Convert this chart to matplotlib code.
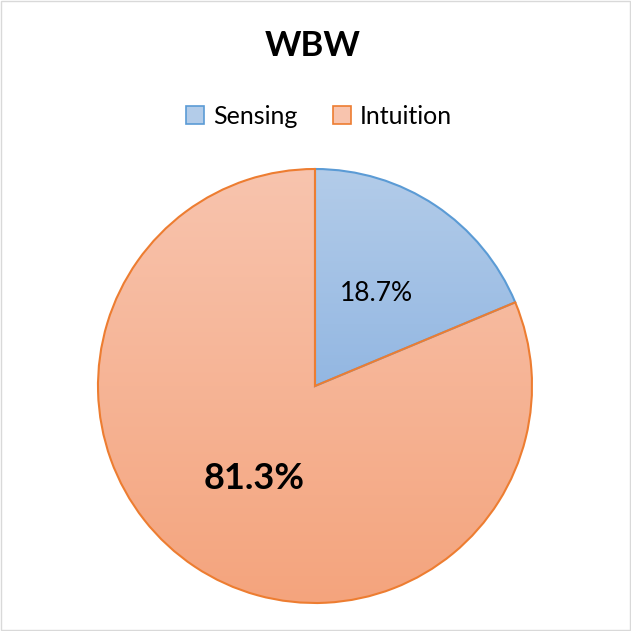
import numpy as np
import matplotlib.pyplot as plt
import matplotlib.patches as mpatches
from matplotlib.colors import LinearSegmentedColormap

plt.rcParams['font.family'] = ['Lato', 'DejaVu Sans']

title = 'WBW'
labels = ['Sensing', 'Intuition']
values = [18.7, 81.3]
edge_colors = ['#5b9bd5', '#ed7d31']
grad_top = ['#b3cce9', '#f8c4ae']
grad_bottom = ['#93b7e2', '#f4a47d']

fig = plt.figure(figsize=(6.31, 6.31), dpi=100)
R = 217 / 631
ax = fig.add_axes([(315 / 631) - R, (245 / 631) - R, 2 * R, 2 * R])
ax.axis('off')

wedges, texts, autotexts = ax.pie(values, startangle=90, counterclock=False,
                                  radius=1, autopct='%.1f%%', pctdistance=0.51,
                                  wedgeprops=dict(linewidth=1.5), frame=False)

for i, w in enumerate(wedges):
    w.set_facecolor('none')
    w.set_edgecolor(edge_colors[i])
    w.set_clip_on(False)
    w.set_zorder(3 + i)
    # vertical gradient inside each wedge's own bounding box
    path = w.get_path()
    verts = w.get_patch_transform().transform(path.vertices)
    y0, y1 = verts[:, 1].min(), verts[:, 1].max()
    cmap = LinearSegmentedColormap.from_list('g%d' % i, [grad_bottom[i], grad_top[i]])
    grad = np.linspace(0, 1, 256).reshape(-1, 1)
    im = ax.imshow(grad, cmap=cmap, origin='lower', aspect='auto',
                   extent=(-1, 1, y0, y1), zorder=1, interpolation='bilinear')
    im.set_clip_path(w)

ax.set_xlim(-1, 1)
ax.set_ylim(-1, 1)
ax.set_aspect('equal')

autotexts[0].set_fontsize(19)
autotexts[0].set_zorder(6)
autotexts[1].set_fontsize(26)
autotexts[1].set_fontweight('bold')
autotexts[1].set_zorder(6)

fig.text(313 / 631, 1 - 46 / 631, title, ha='center', va='center',
         fontsize=25, fontweight='bold')

handles = [mpatches.Patch(facecolor=grad_top[i], edgecolor=edge_colors[i],
                          linewidth=1.2, label=labels[i]) for i in range(2)]
fig.legend(handles=handles, loc='center', bbox_to_anchor=(319 / 631, 1 - 116 / 631),
           ncol=2, frameon=False, fontsize=18, handlelength=0.75, handleheight=0.75,
           handletextpad=0.35, columnspacing=1.4)

fig.add_artist(mpatches.Rectangle((0.001, 0.001), 0.997, 0.997, transform=fig.transFigure,
                                  fill=False, edgecolor='#d9d9d9', linewidth=1))

fig.savefig('out.png', dpi=100)
